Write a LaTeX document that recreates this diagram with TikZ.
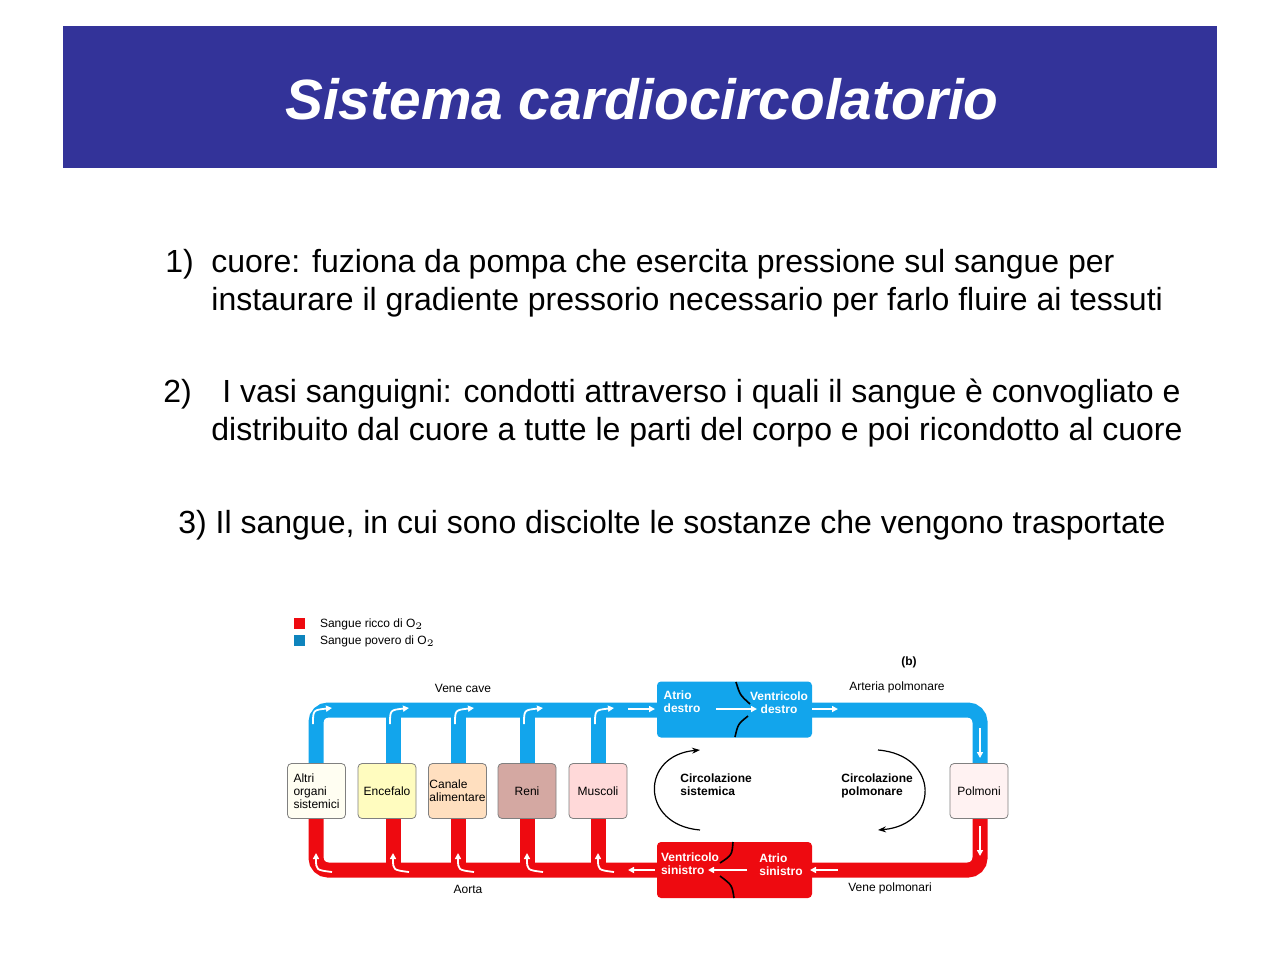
\documentclass[tikz,border=0pt]{standalone}
\usepackage{fontspec}
\setmainfont{Liberation Sans}
\usetikzlibrary{arrows.meta}
\definecolor{titleblue}{HTML}{333399}
\definecolor{venous}{HTML}{12A5EC}
\definecolor{arterial}{HTML}{EE0A10}
\begin{document}
\begin{tikzpicture}[x=0.5pt, y=-0.5pt,
  organ/.style = {draw=gray, rounded corners=2pt, minimum width=29pt, minimum height=27.5pt, inner sep=1pt, font=\fontsize{6}{6.5}\selectfont, align=left},
  chamber/.style = {rounded corners=2pt, minimum width=77.5pt, minimum height=28pt},
  pipe/.style = {line width=7.5pt, rounded corners=6pt},
  flow/.style = {white, line width=0.9pt, -{Triangle[length=3pt,width=3pt]}},
  lbl/.style = {font=\fontsize{6}{6.5}\selectfont},
  wlbl/.style = {font=\fontsize{6}{6.5}\selectfont\bfseries, text=white, align=left, inner sep=0pt},
  cycle/.style = {line width=0.6pt, -{Stealth[length=4pt]}}]
\useasboundingbox (0,0) rectangle (1280,960);
% title
\fill[titleblue] (63,26) rectangle (1217,168);
\node[text=white, font=\fontsize{28.4}{32}\selectfont\bfseries\itshape] (title) at (642,99) {Sistema cardiocircolatorio};
% text
\begin{scope}[every node/.style={anchor=base west, inner sep=0pt, font=\fontsize{16}{19}\selectfont}]
\node (n1) at (165,272) {1)};
\node (t1a) at (211,272) {cuore: fuziona da pompa che esercita pressione sul sangue per};
\node (t1b) at (211,310) {instaurare il gradiente pressorio necessario per farlo fluire ai tessuti};
\node (n2) at (163,402) {2)};
\node (t2a) at (222,402) {I vasi sanguigni: condotti attraverso i quali il sangue è convogliato e};
\node (t2b) at (211,440) {distribuito dal cuore a tutte le parti del corpo e poi ricondotto al cuore};
\node (t3) at (178,533) {3) Il sangue, in cui sono disciolte le sostanze che vengono trasportate};
\end{scope}
% legend
\fill[arterial] (294,618) rectangle (305,629);
\fill[venous!80!black] (294,635) rectangle (305,646);
\node[lbl, anchor=west] (leg1) at (313,624) {Sangue ricco di O$_2$};
\node[lbl, anchor=west] (leg2) at (313,641) {Sangue povero di O$_2$};
\node[lbl, font=\fontsize{6}{6.5}\selectfont\bfseries] (b) at (909,662) {(b)};
% pipes
\foreach \x in {393,458,527,598}{
  \draw[pipe, venous] (\x,766) -- (\x,710);
  \draw[pipe, arterial] (\x,815) -- (\x,870);
}
\draw[pipe, venous] (316,766) -- (316,710) -- (660,710);
\draw[pipe, arterial] (316,815) -- (316,870) -- (660,870);
\draw[pipe, venous] (808,710) -- (980,710) -- (980,767);
\draw[pipe, arterial] (980,815) -- (980,870) -- (808,870);
% heart
\node[chamber, fill=venous] (rh) at (734.5,709.5) {};
\node[chamber, fill=arterial] (lh) at (734.5,870) {};
\draw[line width=0.8pt] (736,682) .. controls (740,695) .. (750,704);
\draw[line width=0.8pt] (748,716) .. controls (738,724) .. (735,737);
\draw[line width=0.8pt] (733,842) .. controls (732,855) .. (720,863);
\draw[line width=0.8pt] (720,876) .. controls (732,885) .. (734,898);
\node[wlbl] (ad) at (682,702) {Atrio\\destro};
\node[wlbl, align=center] (vd) at (779,703) {Ventricolo\\destro};
\node[wlbl] (vs) at (690,864) {Ventricolo\\sinistro};
\node[wlbl] (as) at (781,865) {Atrio\\sinistro};
% organs
\node[organ, fill=yellow!5] (altri) at (316.5,791) {Altri\\organi\\sistemici};
\node[organ, fill=yellow!25] (enc) at (387,791) {Encefalo};
\node[organ, fill=orange!25, inner sep=0pt] (can) at (457.5,791) {Canale\\alimentare};
\node[organ, fill={rgb,255:red,212;green,168;blue,162}] (reni) at (527,791) {Reni};
\node[organ, fill=pink!60] (musc) at (598,791) {Muscoli};
\node[organ, fill=pink!20] (polm) at (979,791) {Polmoni};
% white flow arrows
\foreach \x in {316,393,458,527,598}{
  \draw[flow] (\x-3,724) .. controls (\x-3,710) .. (\x+16,708);
  \draw[flow] (\x+16,872) .. controls (\x,870) .. (\x,853);
}
\draw[flow] (628,709) -- (655,709);
\draw[flow] (716,709) -- (757,709);
\draw[flow] (812,709) -- (838,709);
\draw[flow] (980,728) -- (980,758);
\draw[flow] (980,826) -- (980,856);
\draw[flow] (838,870) -- (810,870);
\draw[flow] (747,870) -- (708,870);
\draw[flow] (655,870) -- (628,870);
% cycle arrows
\draw[cycle] (700,830) .. controls (640,825) and (640,755) .. (700,750);
\draw[cycle] (878,750) .. controls (940,755) and (940,825) .. (878,830);
\node[lbl, font=\fontsize{6}{6.5}\selectfont\bfseries, align=left, anchor=west, inner sep=0pt] (cs) at (680,785) {Circolazione\\sistemica};
\node[lbl, font=\fontsize{6}{6.5}\selectfont\bfseries, align=left, anchor=west, inner sep=0pt] (cp) at (841,786) {Circolazione\\polmonare};
% vessel labels
\node[lbl] (vc) at (463,688) {Vene cave};
\node[lbl] (ao) at (468,889) {Aorta};
\node[lbl] (ap) at (897,687) {Arteria polmonare};
\node[lbl] (vp) at (890,888) {Vene polmonari};
\end{tikzpicture}
\end{document}
